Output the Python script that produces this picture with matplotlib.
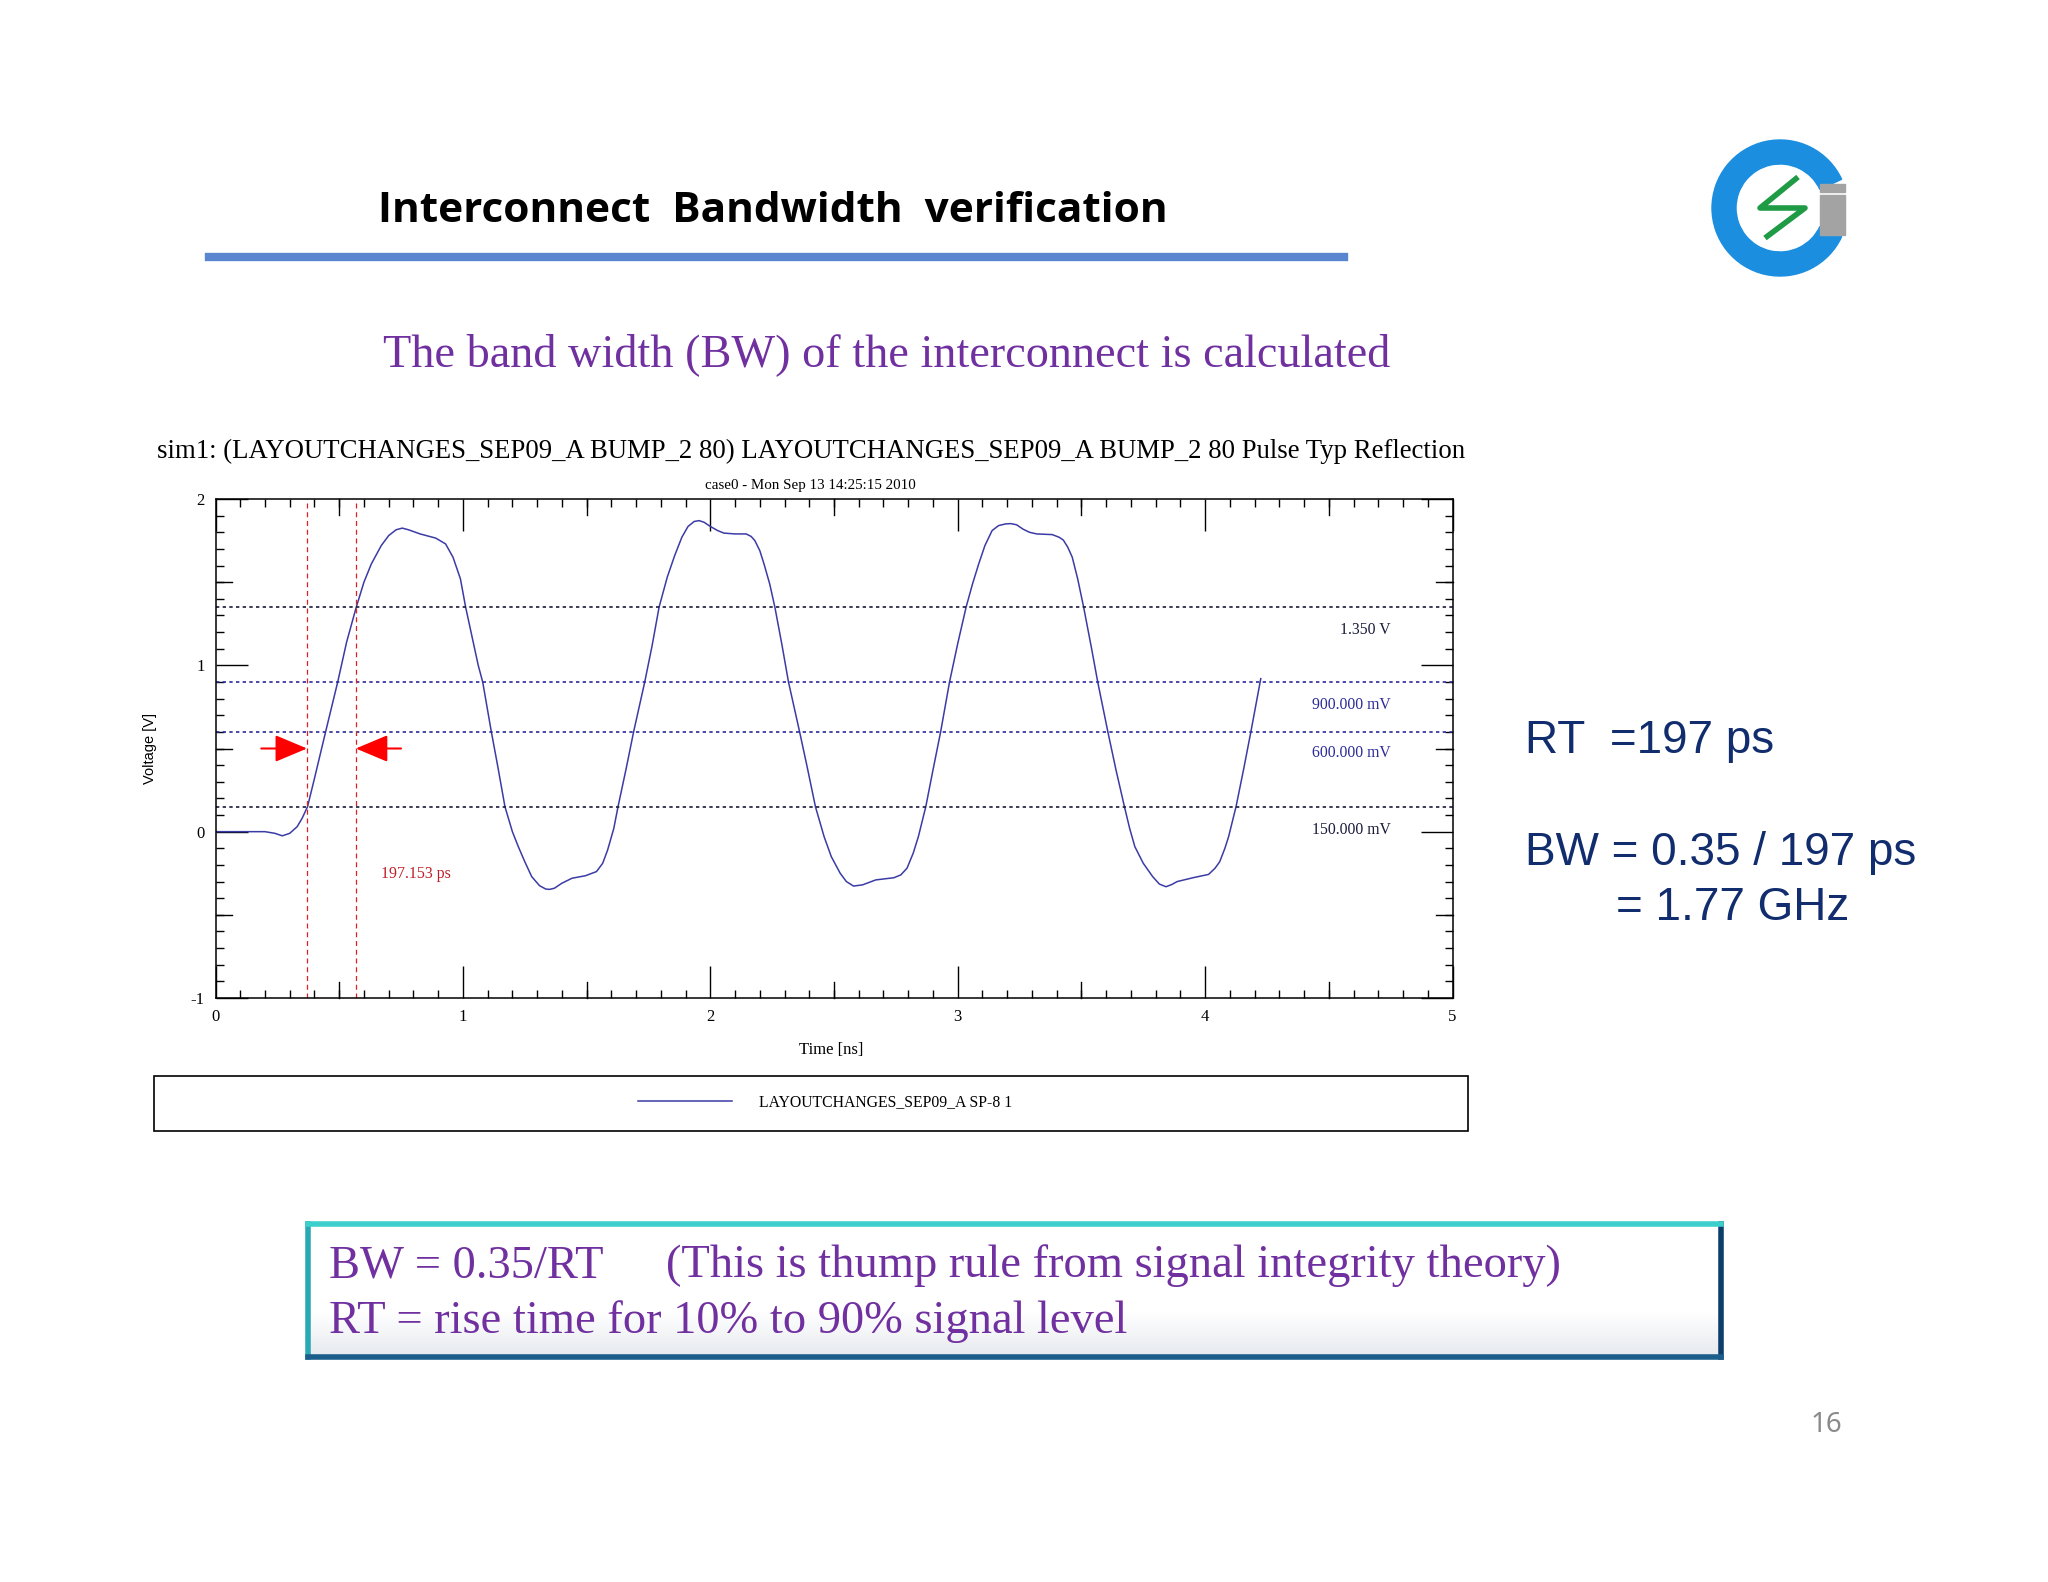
import matplotlib
matplotlib.use("Agg")
import matplotlib.pyplot as plt
from matplotlib.patches import Wedge, Rectangle
from matplotlib.lines import Line2D
from matplotlib.ticker import MultipleLocator
from matplotlib.colors import LinearSegmentedColormap
import numpy as np

plt.rcParams["axes.unicode_minus"] = False

# waveform (time in ns, voltage in V)
time_ns = [0, 0.2, 0.24, 0.27, 0.30, 0.33, 0.35, 0.372, 0.40, 0.445, 0.494, 0.53, 0.569,
           0.60, 0.63, 0.67, 0.70, 0.73, 0.755, 0.78, 0.827, 0.89, 0.93, 0.96, 0.99, 1.011,
           1.04, 1.062, 1.08, 1.115, 1.14, 1.17, 1.20, 1.224, 1.25, 1.278, 1.31, 1.335, 1.35,
           1.37, 1.40, 1.441, 1.495, 1.54, 1.565, 1.585, 1.61, 1.627, 1.66, 1.69, 1.735,
           1.765, 1.793, 1.826, 1.856, 1.885, 1.91, 1.935, 1.955, 1.975, 2.0, 2.03, 2.055,
           2.10, 2.145, 2.165, 2.18, 2.20, 2.217, 2.24, 2.261, 2.29, 2.316, 2.361, 2.39,
           2.425, 2.46, 2.489, 2.525, 2.55, 2.579, 2.615, 2.669, 2.742, 2.77, 2.795, 2.82,
           2.841, 2.871, 2.90, 2.931, 2.967, 3.0, 3.034, 3.06, 3.085, 3.11, 3.139, 3.165,
           3.193, 3.215, 3.238, 3.265, 3.29, 3.319, 3.382, 3.41, 3.427, 3.445, 3.463, 3.485,
           3.509, 3.54, 3.566, 3.607, 3.64, 3.674, 3.695, 3.716, 3.75, 3.788, 3.815, 3.842,
           3.865, 3.887, 3.951, 4.014, 4.04, 4.059, 4.08, 4.095, 4.125, 4.155, 4.185, 4.225]
voltage = [0.0, 0.0, -0.01, -0.025, -0.01, 0.03, 0.08, 0.15, 0.32, 0.60, 0.90, 1.14, 1.35,
           1.50, 1.61, 1.72, 1.78, 1.815, 1.825, 1.815, 1.79, 1.765, 1.73, 1.65, 1.52, 1.35,
           1.15, 1.0, 0.90, 0.60, 0.40, 0.15, 0.0, -0.09, -0.18, -0.27, -0.325, -0.345, -0.347,
           -0.34, -0.31, -0.28, -0.265, -0.24, -0.19, -0.11, 0.02, 0.15, 0.38, 0.60, 0.90,
           1.12, 1.35, 1.53, 1.66, 1.77, 1.835, 1.865, 1.87, 1.86, 1.835, 1.81, 1.795,
           1.79, 1.79, 1.775, 1.75, 1.69, 1.61, 1.49, 1.35, 1.12, 0.90, 0.60, 0.40,
           0.15, -0.03, -0.15, -0.25, -0.30, -0.327, -0.32, -0.29, -0.277, -0.26, -0.22, -0.13,
           -0.03, 0.15, 0.37, 0.60, 0.90, 1.13, 1.35, 1.49, 1.61, 1.72, 1.81, 1.84,
           1.85, 1.852, 1.845, 1.818, 1.80, 1.79, 1.786, 1.77, 1.753, 1.71, 1.65, 1.52,
           1.35, 1.11, 0.90, 0.60, 0.37, 0.15, 0.02, -0.09, -0.19, -0.27, -0.315, -0.331,
           -0.318, -0.30, -0.277, -0.257, -0.22, -0.181, -0.10, -0.03, 0.15, 0.37, 0.60, 0.92]

# measurement levels and labels
levels = [1.35, 0.9, 0.6, 0.15]
level_labels = ["1.350 V", "900.000 mV", "600.000 mV", "150.000 mV"]
level_colors = ["#1a1a3a", "#2b2b9a", "#2b2b9a", "#1a1a3a"]
level_label_y = [1.21, 0.76, 0.47, 0.01]

rise_start = 0.37
rise_time_ps = 197.153

W, H = 2048, 1582


def fx(x):
    return x / W


def fy(y):
    return 1 - y / H


fig = plt.figure(figsize=(20.48, 15.82), dpi=100)
fig.patch.set_facecolor("white")

serif = ["Liberation Serif", "DejaVu Serif"]
sans = ["Liberation Sans", "DejaVu Sans"]
purple = "#7030a0"
navy = "#112d6e"
wave_col = "#3b3ba6"

# slide title + underline
fig.text(fx(773), fy(212), "Interconnect  Bandwidth  verification", family=["Open Sans", "DejaVu Sans"],
         fontsize=30.5, fontweight="bold", ha="center", va="center", color="black")
fig.add_artist(Line2D([fx(209), fx(1344)], [fy(257), fy(257)], color="#5a86d0", lw=6))

fig.text(fx(887), fy(355), "The band width (BW) of the interconnect is calculated", family=serif,
         fontsize=33.3, ha="center", va="center", color=purple)

# logo
lax = fig.add_axes([fx(1700), fy(288), 160 / W, 160 / H])
lax.set_xlim(0, 160)
lax.set_ylim(160, 0)
lax.axis("off")
lax.add_patch(Wedge((80, 80), 68, 25, 335, width=24, color="#1b8ee0"))
lax.add_patch(Rectangle((120, 56), 25, 8, color="#a3a3a3"))
lax.add_patch(Rectangle((120, 67), 25, 40, color="#a3a3a3"))
lax.plot([98, 60, 105, 65], [49, 80, 80, 110], color="#1f9a45", lw=4, solid_capstyle="butt")

# chart
ax = fig.add_axes([fx(215.5), fy(998), (1452.5 - 215.5) / W, (998 - 499) / H])
ax.plot(time_ns, voltage, color=wave_col, lw=1.1, label="LAYOUTCHANGES_SEP09_A SP-8 1")
for lv, lab, c, ly in zip(levels, level_labels, level_colors, level_label_y):
    ax.axhline(lv, color=c, lw=1.2, linestyle=(0, (2, 2)))
    ax.text(4.75, ly, lab, family=serif, fontsize=11.3, ha="right", va="center", color=c)

ax.axvline(rise_start, color="#e02020", lw=0.9, linestyle=(0, (4, 3)))
ax.axvline(rise_start + rise_time_ps / 1000, color="#e02020", lw=0.9, linestyle=(0, (4, 3)))
arrow_style = "-|>,head_length=1.0,head_width=0.42"
ax.annotate("", xy=(rise_start, 0.5), xytext=(0.185, 0.5),
            arrowprops=dict(arrowstyle=arrow_style, color="red", lw=1.5,
                            shrinkA=0, shrinkB=0, mutation_scale=20))
ax.annotate("", xy=(rise_start + rise_time_ps / 1000, 0.5), xytext=(0.75, 0.5),
            arrowprops=dict(arrowstyle=arrow_style, color="red", lw=1.5,
                            shrinkA=0, shrinkB=0, mutation_scale=20))
ax.text(0.67, -0.255, "%.3f ps" % rise_time_ps, family=serif, fontsize=11.5, color="#c0202a",
        ha="left", va="center")

ax.set_xlim(0, 5)
ax.set_ylim(-1, 2)
ax.xaxis.set_major_locator(MultipleLocator(1))
ax.xaxis.set_minor_locator(MultipleLocator(0.1))
ax.yaxis.set_major_locator(MultipleLocator(1))
ax.yaxis.set_minor_locator(MultipleLocator(0.1))
ax.tick_params(which="major", direction="in", length=23, width=1, top=True, right=True,
               labelsize=12, pad=8)
ax.tick_params(which="minor", direction="in", length=6, width=1, top=True, right=True)
for lbl in ax.get_xticklabels() + ax.get_yticklabels():
    lbl.set_family(serif)
# half-unit ticks are a bit longer
for t in np.arange(0.5, 5, 1.0):
    ax.plot([t, t], [0, 0.033], transform=ax.get_xaxis_transform(), color="k", lw=1, clip_on=False)
    ax.plot([t, t], [0.967, 1], transform=ax.get_xaxis_transform(), color="k", lw=1, clip_on=False)
for v in [-0.5, 0.5, 1.5]:
    ax.plot([0, 0.013], [v, v], transform=ax.get_yaxis_transform(), color="k", lw=1, clip_on=False)
    ax.plot([0.987, 1], [v, v], transform=ax.get_yaxis_transform(), color="k", lw=1, clip_on=False)
for s in ax.spines.values():
    s.set_linewidth(1.1)

ax.set_xlabel("Time [ns]", family=serif, fontsize=12)
ax.xaxis.set_label_coords(0.498, -0.088)
ax.set_ylabel("Voltage [V]", family=sans, fontsize=10.5)
ax.yaxis.set_label_coords(-0.047, 0.5)

fig.text(fx(811), fy(451),
         "sim1: (LAYOUTCHANGES_SEP09_A BUMP_2 80) LAYOUTCHANGES_SEP09_A BUMP_2 80 Pulse Typ Reflection",
         family=serif, fontsize=19.3, ha="center", va="center")
fig.text(fx(810), fy(485), "case0 - Mon Sep 13 14:25:15 2010", family=serif, fontsize=10.8,
         ha="center", va="center")

# legend box
fig.add_artist(Rectangle((fx(154), fy(1131)), (1468 - 154) / W, (1131 - 1076) / H,
                         fill=False, edgecolor="black", lw=1.2))
handles, labels = ax.get_legend_handles_labels()
fig.legend(handles, labels, loc="center", bbox_to_anchor=(fx(825), fy(1102)), frameon=False,
           prop={"family": serif, "size": 11.3}, handlelength=6.0, handletextpad=1.7)

# right-side notes
fig.text(fx(1525), fy(741), "RT  =197 ps", family=sans, fontsize=33, color=navy, ha="left", va="center")
fig.text(fx(1525), fy(853), "BW = 0.35 / 197 ps", family=sans, fontsize=33, color=navy, ha="left", va="center")
fig.text(fx(1616), fy(908), "= 1.77 GHz", family=sans, fontsize=33, color=navy, ha="left", va="center")

# formula box
bax = fig.add_axes([fx(308), fy(1357), (1721 - 308) / W, (1357 - 1224) / H])
grad = LinearSegmentedColormap.from_list("g", ["#ffffff", "#ffffff", "#ffffff", "#e6eaee"])
bax.imshow(np.linspace(0, 1, 100).reshape(-1, 1), aspect="auto", cmap=grad, extent=(0, 1, 0, 1))
bax.set_xticks([])
bax.set_yticks([])
bax.spines["top"].set_color("#3ccfcc")
bax.spines["left"].set_color("#2aa8b4")
bax.spines["bottom"].set_color("#1b5e8c")
bax.spines["right"].set_color("#0d3d6b")
for s in bax.spines.values():
    s.set_linewidth(4)
fig.text(fx(329), fy(1266), "BW = 0.35/RT", family=serif, fontsize=33.5, color=purple, ha="left", va="center")
fig.text(fx(666), fy(1266), "(This is thump rule from signal integrity theory)", family=serif,
         fontsize=33.5, color=purple, ha="left", va="center")
fig.text(fx(329), fy(1322), "RT = rise time for 10% to 90% signal level", family=serif, fontsize=33.5,
         color=purple, ha="left", va="center")

fig.text(fx(1826), fy(1425), "16", family=["Noto Sans", "DejaVu Sans"], fontsize=20, color="#8a8a8a",
         ha="center", va="center")

fig.savefig("out.png", dpi=100)
